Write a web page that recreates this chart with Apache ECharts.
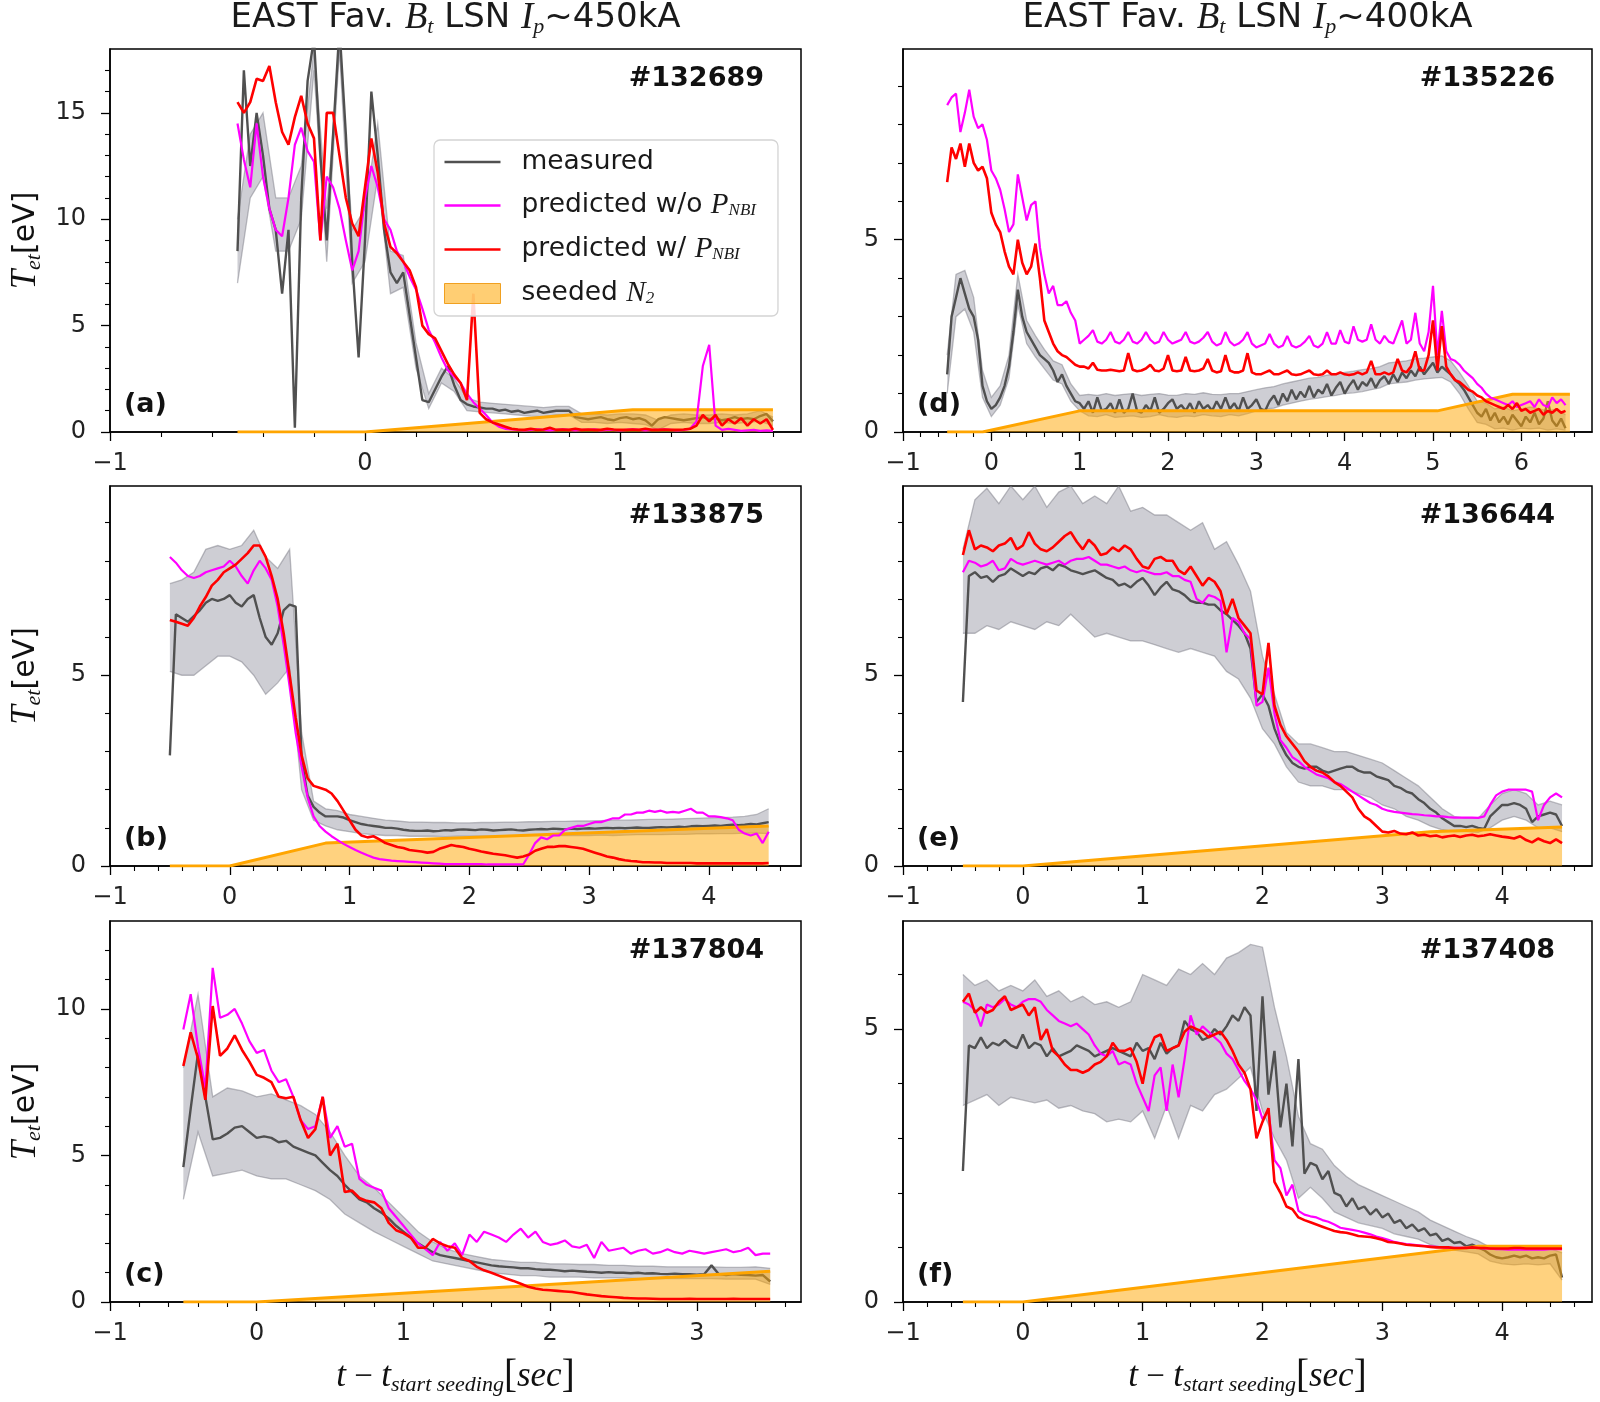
<!DOCTYPE html>
<html>
<head>
<meta charset="utf-8">
<title>EAST divertor Te: measured vs predicted</title>
<script src="https://cdn.jsdelivr.net/npm/echarts@6.0.0/dist/echarts.min.js"></script>
<style>
  html, body { margin: 0; padding: 0; background: #fff; }
  #chart { width: 1600px; height: 1402px; }
</style>
</head>
<body>
<div id="chart"></div>
<script>
// values: T_et [eV] against t - t_start seeding [s]
// lines are sampled from a start time with a fixed step, the grey band on a coarser grid,
// seeded N2 is given by its breakpoints

// ---- (a) #132689 ----
const aLineT0 = -0.5, aLineDt = 0.025;
const aMeas = [
  8.5, 17, 12.5, 15, 13, 10.5, 9.5, 6.5, 9.5, 0.2,
  11, 16.5, 18.5, 13, 9, 14, 19, 14, 8, 3.5,
  9, 16, 13, 9.5, 7.5, 7, 7.5, 5.5, 3.5, 1.5,
  1.4, 2.0, 2.6, 3.1, 2.2, 1.5, 1.3, 1.2, 1.15, 1.1,
  1.1, 1.0, 1.05, 0.95, 1.0, 0.9, 0.95, 1.0, 0.9, 0.95,
  1.0, 1.0, 1.0, 0.7, 0.65, 0.6, 0.65, 0.7, 0.6, 0.55,
  0.65, 0.7, 0.6, 0.65, 0.55, 0.3, 0.6, 0.7, 0.65, 0.6,
  0.55, 0.6, 0.65, 0.7, 0.6, 0.65, 0.55, 0.6, 0.7, 0.6,
  0.65, 0.6, 0.75, 0.85, 0.5
];
const aPred = [
  14.5, 12.8, 11.5, 14.5, 12, 10.5, 9.5, 9.2, 11, 13.5,
  14.3, 13.2, 12.7, 9, 12, 11.5, 10.5, 9, 7.6, 8.5,
  11, 12.5, 11.5, 10, 9.5, 8.5, 8, 7.3, 6.7, 5.8,
  4.8, 4.2, 3.5, 2.9, 2.6, 2.3, 1.8, 1.4, 1.1, 0.8,
  0.45, 0.25, 0.15, 0.12, 0.1, 0.08, 0.1, 0.12, 0.1, 0.08,
  0.1, 0.12, 0.1, 0.08, 0.1, 0.1, 0.12, 0.08, 0.1, 0.1,
  0.08, 0.1, 0.12, 0.1, 0.08, 0.1, 0.1, 0.12, 0.1, 0.08,
  0.1, 0.15, 0.5, 3.1, 4.1, 0.3, 0.1, 0.15, 0.1, 0.05,
  0.08, 0.1, 0.05, 0.08, 0.05
];
const aPredNbi = [
  15.5, 15, 15.5, 16.6, 16.5, 17.2, 15.5, 14.1, 13.5, 14.8,
  15.8, 14.5, 13.8, 9, 15, 15, 13, 11, 9.8, 9.2,
  11.5, 13.8, 12.2, 9.8, 8.7, 8.4, 8, 7.6, 6.8, 5,
  4.6, 4.4, 3.8, 3.2, 2.7, 2.3, 1.5, 6.5, 0.9, 0.6,
  0.45, 0.35, 0.25, 0.15, 0.12, 0.1, 0.15, 0.1, 0.12, 0.2,
  0.1, 0.12, 0.1, 0.15, 0.1, 0.12, 0.1, 0.1, 0.15, 0.12,
  0.1, 0.1, 0.12, 0.1, 0.15, 0.1, 0.1, 0.12, 0.1, 0.1,
  0.12, 0.15, 0.3, 0.8, 0.5, 0.8, 0.3, 0.6, 0.4, 0.65,
  0.3, 0.6, 0.4, 0.6, 0.1
];
const aBandT0 = -0.5, aBandDt = 0.05;
const aLo = [
  7, 11, 12, 8.5, 8.5, 10, 17, 8, 18, 7,
  8, 12, 6.5, 6.8, 3, 1.1, 2.3, 1.9, 1.0, 0.95,
  0.9, 0.85, 0.8, 0.75, 0.72, 0.8, 0.8, 0.45, 0.45, 0.4,
  0.45, 0.4, 0.35, 0.1, 0.4, 0.45, 0.4, 0.4, 0.45, 0.4,
  0.45, 0.5, 0.3
];
const aHi = [
  10, 14, 15, 11, 11, 12.5, 20, 10.5, 20, 9.5,
  10.5, 14.5, 8.5, 8.3, 4.2, 1.8, 3, 2.5, 1.6, 1.4,
  1.35, 1.3, 1.25, 1.2, 1.15, 1.2, 1.2, 0.85, 0.85, 0.8,
  0.85, 0.85, 0.8, 0.55, 0.8, 0.85, 0.8, 0.8, 0.85, 0.8,
  0.85, 1.0, 0.7
];
const aN2T = [-0.5, 0, 1.05, 1.6];
const aN2V = [0, 0, 1.05, 1.05];

// ---- (b) #133875 ----
const bLineT0 = -0.5, bLineDt = 0.05;
const bMeas = [
  2.9, 6.6, 6.5, 6.4, 6.55, 6.7, 6.9, 7.0, 6.95, 7.0,
  7.1, 6.9, 6.8, 7.0, 7.1, 6.5, 6.0, 5.8, 6.1, 6.7,
  6.85, 6.8, 2.8, 1.85, 1.55, 1.4, 1.3, 1.3, 1.3, 1.27,
  1.2, 1.15, 1.1, 1.07, 1.05, 1.03, 1.0, 1.0, 0.98, 0.95,
  0.93, 0.92, 0.92, 0.93, 0.91, 0.92, 0.94, 0.93, 0.95, 0.96,
  0.95, 0.94, 0.96, 0.95, 0.93, 0.94, 0.95, 0.96, 0.94, 0.93,
  0.95, 0.96, 0.97, 0.96, 0.98, 0.97, 0.96, 0.98, 0.97, 0.98,
  0.99, 0.98, 0.99, 1.0, 0.99, 1.0, 0.99, 1.0, 1.01, 1.0,
  1.0, 1.01, 1.02, 1.01, 1.02, 1.03, 1.02, 1.04, 1.05, 1.04,
  1.05, 1.06, 1.05, 1.07, 1.08, 1.07, 1.08, 1.1, 1.09, 1.12,
  1.15
];
const bPred = [
  8.1, 7.95, 7.75, 7.6, 7.55, 7.6, 7.7, 7.75, 7.8, 7.85,
  8.0, 7.85, 7.6, 7.4, 7.75, 8.0, 7.8, 7.5, 6.8, 5.8,
  4.7, 3.5, 2.6, 1.8, 1.3, 1.05, 0.9, 0.78, 0.68, 0.58,
  0.5, 0.42, 0.35, 0.28, 0.22, 0.18, 0.16, 0.14, 0.13, 0.12,
  0.11, 0.1, 0.09, 0.08, 0.07, 0.06, 0.05, 0.05, 0.05, 0.05,
  0.05, 0.05, 0.05, 0.04, 0.04, 0.04, 0.04, 0.04, 0.04, 0.04,
  0.3, 0.6, 0.75, 0.7, 0.8, 0.8, 0.95, 1.0, 1.05, 1.05,
  1.1, 1.15, 1.15, 1.2, 1.25, 1.25, 1.35, 1.35, 1.4, 1.4,
  1.45, 1.42, 1.45, 1.4, 1.42, 1.4, 1.45, 1.5, 1.4, 1.4,
  1.3, 1.3, 1.28, 1.25, 1.2, 0.95, 0.85, 0.8, 0.85, 0.6,
  0.9
];
const bPredNbi = [
  6.45, 6.4, 6.35, 6.3, 6.5, 6.8, 7.05, 7.35, 7.5, 7.7,
  7.8, 7.9, 8.05, 8.2, 8.4, 8.4, 8.1, 7.6, 7.0, 6.1,
  5.0, 3.9, 2.9, 2.3, 2.1, 2.05, 2.0, 1.9, 1.7, 1.45,
  1.2, 0.95, 0.8, 0.75, 0.78, 0.7, 0.6, 0.55, 0.5, 0.47,
  0.42, 0.4, 0.38, 0.35, 0.37, 0.45, 0.5, 0.55, 0.52, 0.5,
  0.45, 0.42, 0.38, 0.35, 0.32, 0.3, 0.28, 0.25, 0.22, 0.25,
  0.3, 0.4, 0.45, 0.5, 0.5, 0.52, 0.52, 0.5, 0.48, 0.45,
  0.4, 0.35, 0.3, 0.25, 0.22, 0.18, 0.15, 0.13, 0.12, 0.1,
  0.1, 0.09, 0.09, 0.08, 0.08, 0.08, 0.08, 0.08, 0.07, 0.07,
  0.07, 0.07, 0.07, 0.07, 0.07, 0.07, 0.07, 0.07, 0.07, 0.07,
  0.08
];
const bBandT0 = -0.5, bBandDt = 0.1;
const bLo = [
  5.1, 5.0, 5.0, 5.25, 5.5, 5.5, 5.35, 5.0, 4.5, 4.8,
  5.2, 2.0, 1.2, 1.05, 0.95, 0.9, 0.85, 0.82, 0.8, 0.8,
  0.78, 0.78, 0.78, 0.77, 0.78, 0.78, 0.78, 0.78, 0.79, 0.79,
  0.8, 0.8, 0.8, 0.8, 0.8, 0.8, 0.81, 0.8, 0.81, 0.82,
  0.82, 0.82, 0.83, 0.83, 0.84, 0.84, 0.85, 0.85, 0.86, 0.86,
  0.85
];
const bHi = [
  7.4, 7.5, 7.7, 8.3, 8.4, 8.3, 8.4, 8.8, 8.1, 7.8,
  8.3, 3.5, 1.7, 1.5, 1.45, 1.35, 1.3, 1.25, 1.2, 1.18,
  1.15, 1.15, 1.14, 1.14, 1.13, 1.13, 1.14, 1.14, 1.15, 1.15,
  1.16, 1.16, 1.17, 1.17, 1.18, 1.18, 1.19, 1.2, 1.2, 1.21,
  1.22, 1.22, 1.23, 1.24, 1.25, 1.26, 1.27, 1.28, 1.3, 1.35,
  1.5
];
const bN2T = [-0.5, 0, 0.8, 4.5];
const bN2V = [0, 0, 0.6, 1.05];

// ---- (c) #137804 ----
const cLineT0 = -0.5, cLineDt = 0.05;
const cMeas = [
  4.6, 6.6, 8.5, 7.0, 5.55, 5.6, 5.75, 5.95, 6.0, 5.8,
  5.6, 5.65, 5.6, 5.45, 5.5, 5.3, 5.2, 5.1, 5.0, 4.75,
  4.5, 4.3, 4.0, 3.75, 3.5, 3.4, 3.2, 3.05, 2.85, 2.6,
  2.4, 2.2, 2.0, 1.85, 1.7, 1.6, 1.55, 1.5, 1.45, 1.4,
  1.35, 1.3, 1.25, 1.22, 1.2, 1.18, 1.15, 1.15, 1.12, 1.1,
  1.1, 1.08, 1.05, 1.07, 1.05, 1.03, 1.02, 1.0, 1.02, 1.0,
  1.0, 0.98, 1.0, 0.97, 0.98, 0.96, 0.95, 0.97, 0.95, 0.95,
  0.93, 0.95, 1.25, 0.95, 0.92, 0.95, 0.93, 0.92, 0.9, 0.92,
  0.7
];
const cPred = [
  9.3, 10.5, 8.7, 7.3, 11.4, 9.7, 9.8, 10.0, 9.5, 8.9,
  8.5, 8.6, 7.9, 7.5, 7.6, 7.0, 6.2, 5.9, 6.0, 7.0,
  5.6, 6.0, 5.3, 5.4, 4.2, 4.0, 3.9, 3.8, 3.2, 2.9,
  2.6, 2.3, 2.0, 1.8, 1.6, 2.05, 1.75, 2.0, 1.6, 2.3,
  2.05, 2.4, 2.3, 2.2, 2.05, 2.3, 2.5, 2.2, 2.4, 2.05,
  1.95, 2.0, 2.1, 1.9, 1.85, 1.95, 1.5, 2.05, 1.75, 1.8,
  1.85, 1.65, 1.75, 1.8, 1.65, 1.7, 1.8, 1.7, 1.65, 1.75,
  1.7, 1.65, 1.7, 1.75, 1.8, 1.7, 1.75, 1.85, 1.6, 1.65,
  1.65
];
const cPredNbi = [
  8.05, 9.2, 8.3, 6.9, 10.1, 8.4, 8.65, 9.1, 8.6, 8.2,
  7.75, 7.65, 7.5, 7.0, 6.95, 7.0, 6.2, 5.6, 5.9, 7.0,
  5.0, 5.4, 3.75, 3.8, 3.55, 3.45, 3.4, 3.2, 2.7, 2.45,
  2.35, 2.2, 1.85, 1.85, 2.15, 2.0, 1.9, 1.85, 1.5, 1.4,
  1.2, 1.08, 1.0, 0.9, 0.8, 0.72, 0.62, 0.52, 0.46, 0.42,
  0.4, 0.38, 0.36, 0.34, 0.3, 0.26, 0.23, 0.2, 0.18, 0.16,
  0.14, 0.13, 0.12, 0.12, 0.11, 0.1, 0.1, 0.1, 0.1, 0.11,
  0.1, 0.1, 0.1, 0.1, 0.1, 0.11, 0.1, 0.1, 0.1, 0.1,
  0.1
];
const cBandT0 = -0.5, cBandDt = 0.1;
const cLo = [
  3.5, 5.8, 4.3, 4.4, 4.5, 4.3, 4.2, 4.2, 4.0, 3.8,
  3.5, 3.0, 2.7, 2.4, 2.15, 1.9, 1.65, 1.4, 1.3, 1.2,
  1.1, 1.0, 0.95, 0.9, 0.9, 0.85, 0.85, 0.85, 0.82, 0.82,
  0.82, 0.8, 0.8, 0.8, 0.8, 0.8, 0.8, 0.78, 0.78, 0.78,
  0.6
];
const cHi = [
  8.0, 10.5, 7.0, 7.3, 7.2, 7.0, 7.1, 6.9, 6.7, 6.4,
  5.8, 5.0, 4.3, 3.9, 3.4, 2.9, 2.4, 2.05, 1.8, 1.65,
  1.55, 1.45, 1.4, 1.35, 1.35, 1.3, 1.3, 1.28, 1.28, 1.25,
  1.25, 1.22, 1.22, 1.2, 1.2, 1.2, 1.2, 1.18, 1.18, 1.2,
  1.15
];
const cN2T = [-0.5, 0, 3.5];
const cN2V = [0, 0, 1.05];

// ---- (d) #135226 ----
const dLineT0 = -0.5, dLineDt = 0.05;
const dMeas = [
  1.5, 3.0, 3.5, 4.0, 3.6, 3.2, 3.0, 2.4, 1.2, 0.8,
  0.6, 0.7, 0.9, 1.2, 1.7, 2.6, 3.7, 3.0, 2.6, 2.4,
  2.2, 2.0, 1.9, 1.8, 1.6, 1.3, 1.5, 1.2, 1.0, 0.8,
  0.75, 0.6, 0.8, 0.5, 0.9, 0.55, 0.6, 0.75, 0.5, 0.85,
  0.5, 0.6, 1.0, 0.55, 0.5, 0.7, 0.55, 0.9, 0.5, 0.6,
  0.75, 0.85, 0.6, 0.7, 0.55, 0.75, 0.5, 0.8, 0.6, 0.7,
  0.55, 0.8, 0.6, 0.9, 0.6, 0.75, 0.55, 0.9, 0.6, 0.7,
  0.85, 0.6, 0.55, 0.8, 0.95, 0.7, 1.0, 0.8, 1.1, 0.85,
  1.05, 0.9, 1.2, 0.9, 1.1, 1.0, 1.25, 0.95, 1.15, 1.3,
  1.0, 1.2, 1.35, 1.1, 1.3, 1.2, 1.4, 1.15, 1.35, 1.45,
  1.25, 1.5, 1.3, 1.55, 1.4, 1.6, 1.45, 1.7, 1.5, 1.65,
  1.8, 1.55, 1.7, 1.6, 1.5, 1.35, 1.25, 1.1, 0.9, 0.7,
  0.5, 0.4, 0.6, 0.3, 0.5, 0.25, 0.4, 0.2, 0.45, 0.3,
  0.15, 0.4, 0.25, 0.5, 0.2, 0.35, 0.8, 0.3, 0.15, 0.35,
  0.1
];
const dPred = [
  8.5, 8.7, 8.8, 7.8, 8.3, 8.9, 8.2, 7.9, 8.0, 7.6,
  6.8, 6.6, 6.3, 5.8, 5.2, 5.4, 6.7, 6.1, 5.5, 5.9,
  6.0, 4.8, 4.1, 3.6, 3.8, 3.3, 3.3, 3.4, 3.1, 2.9,
  2.3, 2.4, 2.5, 2.65, 2.35, 2.3, 2.4, 2.6, 2.35, 2.3,
  2.4, 2.6, 2.35, 2.3, 2.4, 2.6, 2.4, 2.3, 2.35, 2.6,
  2.4, 2.3, 2.35, 2.4, 2.6, 2.35, 2.3, 2.35, 2.45, 2.6,
  2.35, 2.25, 2.3, 2.6, 2.35, 2.25, 2.3, 2.4, 2.6, 2.3,
  2.2, 2.25, 2.3, 2.55, 2.3, 2.2, 2.25, 2.5, 2.25, 2.2,
  2.25, 2.35, 2.5, 2.25, 2.2, 2.3, 2.6, 2.3, 2.3, 2.65,
  2.35, 2.3, 2.75, 2.4, 2.35, 2.4, 2.8, 2.4, 2.3, 2.5,
  2.35, 2.3, 2.6, 2.9, 2.3, 2.4, 3.1, 2.3, 2.1, 2.6,
  3.8, 2.0, 3.15, 2.1, 1.9, 1.85, 1.75, 1.6, 1.5, 1.4,
  1.25, 1.15, 1.0, 0.9, 0.85, 0.8, 0.75, 0.7, 0.8, 0.65,
  0.7, 0.75, 0.8, 0.65, 0.85, 0.7, 0.65, 0.9, 0.75, 0.85,
  0.7
];
const dPredNbi = [
  6.5, 7.4, 7.1, 7.5, 6.9, 7.5, 7.0, 6.8, 6.9, 6.6,
  5.7, 5.4, 5.2, 4.7, 4.3, 4.1, 5.0, 4.4, 4.1, 4.3,
  4.9, 4.0, 2.9, 2.6, 2.3, 2.1, 2.0, 1.95, 1.85, 1.75,
  1.7, 1.7, 1.65, 1.8, 1.62, 1.6, 1.6, 1.62, 1.6, 1.58,
  1.6, 2.05, 1.62, 1.58, 1.6, 1.65, 1.75, 1.6, 1.58, 1.65,
  2.0, 1.6, 1.58, 1.6, 1.95, 1.6, 1.58, 1.6, 1.65, 1.9,
  1.6, 1.55, 1.58, 2.0, 1.6, 1.55, 1.55, 1.6, 2.05, 1.55,
  1.5, 1.5, 1.55, 1.6, 1.5, 1.5, 1.55, 1.6, 1.5, 1.48,
  1.5, 1.55, 1.6, 1.5, 1.48, 1.5, 1.6, 1.5, 1.5, 1.55,
  1.5, 1.48, 1.5, 1.55, 1.5, 1.55, 1.85, 1.5, 1.5, 1.55,
  1.5, 1.55, 1.9, 1.6, 1.55, 1.7, 2.1, 1.6, 1.6, 2.0,
  2.9, 1.6, 2.75, 1.7, 1.5, 1.35, 1.3, 1.2, 1.1, 1.05,
  0.95, 0.9, 0.8, 0.75, 0.7, 0.65, 0.6, 0.7, 0.6, 0.75,
  0.55, 0.6, 0.5, 0.55, 0.6, 0.45, 0.55, 0.5, 0.6, 0.5,
  0.55
];
const dBandT0 = -0.5, dBandDt = 0.1;
const dLo = [
  1.0, 3.0, 3.2, 2.6, 0.9, 0.4, 0.7, 1.4, 3.3, 2.3,
  1.95, 1.65, 1.35, 1.25, 0.8, 0.55, 0.42, 0.4, 0.45, 0.38,
  0.4, 0.42, 0.38, 0.4, 0.45, 0.4, 0.38, 0.42, 0.4, 0.45,
  0.42, 0.4, 0.45, 0.42, 0.48, 0.55, 0.6, 0.62, 0.7, 0.75,
  0.8, 0.85, 0.88, 0.92, 0.95, 1.0, 1.02, 1.05, 1.1, 1.15,
  1.25, 1.28, 1.3, 1.35, 1.38, 1.4, 1.42, 1.3, 1.0, 0.6,
  0.25, 0.2, 0.08, 0.1, 0.05, 0.1, 0.08, 0.1, 0.05, 0.08,
  0.05
];
const dHi = [
  2.0, 4.1, 4.2, 3.5, 1.6, 0.9, 1.2, 2.0, 4.1, 2.9,
  2.5, 2.15, 1.85, 1.75, 1.25, 0.95, 0.98, 0.95, 1.0, 0.95,
  0.98, 1.0, 0.95, 0.98, 1.0, 0.96, 0.95, 1.0, 0.98, 1.02,
  0.98, 0.97, 1.0, 1.0, 1.05, 1.1, 1.15, 1.18, 1.25, 1.3,
  1.35, 1.4, 1.42, 1.48, 1.5, 1.55, 1.58, 1.62, 1.65, 1.7,
  1.8, 1.82, 1.85, 1.9, 1.92, 1.95, 1.98, 1.85, 1.55, 1.2,
  0.8, 0.75, 0.6, 0.65, 0.55, 0.6, 0.65, 0.6, 0.55, 0.6,
  0.45
];
const dN2T = [-0.5, -0.1, 1.0, 5.05, 5.9, 6.55];
const dN2V = [0, 0, 0.55, 0.55, 0.98, 0.98];

// ---- (e) #136644 ----
const eLineT0 = -0.5, eLineDt = 0.05;
const eMeas = [
  4.3, 7.6, 7.7, 7.55, 7.6, 7.45, 7.6, 7.65, 7.8, 7.7,
  7.6, 7.7, 7.65, 7.8, 7.85, 7.75, 7.9, 7.85, 7.75, 7.7,
  7.65, 7.7, 7.75, 7.65, 7.55, 7.5, 7.35, 7.4, 7.3, 7.45,
  7.55, 7.35, 7.1, 7.3, 7.45, 7.25, 7.2, 7.1, 6.95, 6.9,
  6.9, 6.85, 6.85, 6.7, 6.6, 6.45, 6.3, 6.1, 5.7, 4.3,
  4.5, 4.2, 3.6, 3.2, 2.9, 2.7, 2.6, 2.55, 2.6, 2.6,
  2.5, 2.45, 2.5, 2.55, 2.6, 2.6, 2.5, 2.45, 2.45, 2.35,
  2.3, 2.25, 2.1, 2.05, 1.95, 1.9, 1.75, 1.65, 1.5, 1.4,
  1.25, 1.15, 1.05, 1.05, 1.02, 1.05, 1.0, 0.97, 1.3, 1.45,
  1.6, 1.6, 1.65, 1.6, 1.5, 1.15, 1.3, 1.35, 1.4, 1.35,
  1.05
];
const ePred = [
  7.7, 8.0, 7.95, 7.85, 7.9, 8.0, 7.75, 7.8, 8.05, 7.95,
  7.9, 7.95, 8.0, 7.95, 7.9, 7.95, 8.0, 7.9, 8.0, 8.05,
  8.05, 8.1, 8.0, 7.9, 7.9, 7.85, 7.8, 7.85, 7.75, 7.7,
  7.75, 7.7, 7.65, 7.65, 7.7, 7.6, 7.6, 7.5, 7.45, 7.0,
  6.9, 7.1, 7.05, 6.95, 5.6, 6.5, 6.4, 6.1, 5.95, 4.2,
  4.3, 5.2, 4.0, 3.3, 3.1, 2.85, 2.75, 2.6, 2.5, 2.4,
  2.35, 2.3, 2.2, 2.15, 2.05, 1.95, 1.85, 1.75, 1.65, 1.6,
  1.5, 1.45, 1.42, 1.4, 1.38, 1.36, 1.35, 1.33, 1.32, 1.3,
  1.3, 1.28, 1.27, 1.27, 1.27, 1.27, 1.26, 1.3, 1.6, 1.85,
  1.95, 2.0, 2.0, 2.0, 2.0, 1.95, 1.2, 1.6, 1.8, 1.9,
  1.8
];
const ePredNbi = [
  8.15, 8.8, 8.3, 8.4, 8.35, 8.25, 8.4, 8.45, 8.6, 8.3,
  8.4, 8.75, 8.45, 8.3, 8.25, 8.35, 8.5, 8.65, 8.75, 8.5,
  8.3, 8.55, 8.4, 8.15, 8.2, 8.35, 8.25, 8.4, 8.3, 8.05,
  7.85, 7.8, 8.05, 8.1, 8.0, 8.0, 7.75, 7.65, 7.85, 7.6,
  7.35, 7.55, 7.45, 7.2, 6.6, 7.0, 6.5, 6.3, 6.1, 4.6,
  4.5, 5.85, 4.2, 3.7, 3.4, 3.2, 3.0, 2.75, 2.6, 2.5,
  2.45, 2.35, 2.2, 2.1, 1.95, 1.8, 1.5, 1.3, 1.2, 1.05,
  0.9, 0.88, 0.92, 0.85, 0.83, 0.88, 0.8, 0.82, 0.78, 0.8,
  0.75, 0.78, 0.8, 0.76, 0.8, 0.82, 0.78, 0.8, 0.83, 0.8,
  0.77, 0.75, 0.72, 0.78, 0.68, 0.62, 0.72, 0.65, 0.6, 0.7,
  0.6
];
const eBandT0 = -0.5, eBandDt = 0.1;
const eLo = [
  6.1, 6.1, 6.3, 6.2, 6.4, 6.3, 6.2, 6.4, 6.3, 6.6,
  6.3, 6.0, 6.1, 6.0, 5.9, 5.9, 5.8, 5.7, 5.6, 5.7,
  5.6, 5.5, 5.1, 4.9, 4.4, 3.6, 3.2, 2.6, 2.2, 2.1,
  2.1, 2.0, 2.0, 1.9, 1.8, 1.6, 1.5, 1.3, 1.2, 1.05,
  0.95, 0.9, 0.9, 0.88, 1.0, 1.2, 1.3, 1.2, 1.0, 1.0,
  0.9
];
const eHi = [
  8.3, 9.6, 9.9, 9.5, 10.0, 9.6, 10.0, 9.4, 9.8, 10.0,
  9.5, 9.7, 9.5, 10.0, 9.3, 9.4, 9.2, 9.2, 9.0, 8.8,
  9.0, 8.3, 8.5, 7.9, 7.2, 5.5, 4.5, 3.5, 3.2, 3.2,
  3.1, 3.0, 3.0, 2.9, 2.8, 2.7, 2.5, 2.3, 2.1, 1.8,
  1.5, 1.3, 1.25, 1.25, 1.6, 1.9, 2.0, 1.9, 1.6, 1.7,
  1.6
];
const eN2T = [-0.5, 0, 3.4, 4.5];
const eN2V = [0, 0, 0.9, 1.02];

// ---- (f) #137408 ----
const fLineT0 = -0.5, fLineDt = 0.05;
const fMeas = [
  2.4, 4.7, 4.65, 4.85, 4.65, 4.75, 4.7, 4.8, 4.7, 4.65,
  4.9, 4.65, 4.75, 4.7, 4.5, 4.65, 4.5, 4.55, 4.6, 4.7,
  4.65, 4.6, 4.5, 4.55, 4.6, 4.65, 4.6, 4.55, 4.5, 4.75,
  4.6, 4.65, 4.45, 4.75, 4.55, 4.65, 4.7, 5.15, 5.0, 4.95,
  4.8, 4.85, 5.0, 4.9, 5.05, 5.25, 5.15, 5.4, 5.25, 3.5,
  5.6, 3.8, 4.6, 3.2, 4.0, 2.85, 4.45, 2.35, 2.55, 2.5,
  2.25, 2.4, 2.0, 1.95, 1.75, 1.9, 1.7, 1.75, 1.6, 1.7,
  1.55, 1.62, 1.45, 1.5, 1.35, 1.42, 1.3, 1.35, 1.22, 1.25,
  1.12, 1.16, 1.08, 1.1, 1.02, 1.05, 1.0, 0.95, 0.87, 0.82,
  0.8, 0.82, 0.85, 0.82, 0.85, 0.8, 0.82, 0.8, 0.85, 0.87,
  0.45
];
const fPred = [
  5.5, 5.45, 5.35, 5.05, 5.45, 5.4, 5.45, 5.55, 5.45, 5.4,
  5.5, 5.55, 5.55, 5.5, 5.35, 5.25, 5.15, 5.1, 5.05, 5.1,
  5.0, 4.9, 4.7, 4.55, 4.5, 4.6, 4.35, 4.4, 4.35, 4.0,
  3.75, 3.5, 4.15, 4.3, 3.5, 4.35, 3.75, 4.45, 5.25, 4.9,
  5.05, 4.95, 4.85, 4.75, 4.55, 4.45, 4.25, 4.05, 3.9, 3.7,
  3.35, 3.5, 2.6, 2.45, 1.95, 2.15, 1.67, 1.6, 1.57, 1.55,
  1.5, 1.47, 1.42, 1.36, 1.34, 1.32, 1.3, 1.27, 1.24, 1.2,
  1.17, 1.14, 1.1, 1.08, 1.06, 1.05, 1.04, 1.03, 1.02, 1.01,
  1.0, 0.99, 0.99, 0.99, 0.99, 0.99, 0.99, 0.98, 0.98, 0.97,
  0.97, 0.96, 0.96, 0.96, 0.96, 0.96, 0.96, 0.96, 0.97, 0.97,
  0.97
];
const fPredNbi = [
  5.5, 5.65, 5.3, 5.4, 5.3, 5.35, 5.5, 5.6, 5.35, 5.4,
  5.45, 5.25, 5.4, 4.8, 5.0, 4.6, 4.5, 4.35, 4.25, 4.25,
  4.2, 4.25, 4.35, 4.4, 4.5, 4.75, 4.6, 4.6, 4.65, 4.4,
  4.0, 4.6, 4.85, 4.9, 4.6, 4.65, 4.7, 4.95, 5.05, 5.0,
  4.95, 4.85, 4.9, 4.95, 4.8, 4.6, 4.35, 4.2, 3.9, 3.0,
  3.3, 3.55, 2.2, 2.0, 1.75, 1.7, 1.55, 1.5, 1.46, 1.42,
  1.38, 1.34, 1.3, 1.28, 1.27, 1.24, 1.21, 1.2, 1.19, 1.17,
  1.14, 1.1, 1.09, 1.07, 1.05, 1.04, 1.03, 1.02, 1.01, 1.0,
  1.0, 1.0, 0.99, 0.99, 0.99, 1.0, 0.99, 0.99, 0.98, 0.98,
  0.98, 0.98, 0.99, 0.99, 0.98, 0.98, 0.98, 0.98, 0.98, 0.98,
  0.98
];
const fBandT0 = -0.5, fBandDt = 0.1;
const fLo = [
  3.6, 3.7, 3.8, 3.6, 3.75, 3.7, 3.65, 3.7, 3.55, 3.6,
  3.5, 3.45, 3.3, 3.35, 3.3, 3.5, 3.0, 3.6, 3.0, 3.6,
  3.5, 3.8, 3.9, 4.1, 4.3, 3.5, 3.0, 2.6, 1.9, 2.1,
  1.9, 1.65, 1.55, 1.45, 1.4, 1.35, 1.25, 1.2, 1.15, 1.05,
  1.0, 0.95, 0.92, 0.88, 0.75, 0.7, 0.68, 0.7, 0.68, 0.7,
  0.4
];
const fHi = [
  6.0, 5.8, 5.9, 5.7, 5.8, 5.7, 5.9, 5.6, 5.7, 5.5,
  5.6, 5.45, 5.5, 5.4, 5.5, 6.0, 5.9, 5.8, 6.1, 6.0,
  6.2, 6.0, 6.3, 6.4, 6.55, 6.5, 5.4, 4.5, 3.4, 2.9,
  2.8, 2.5, 2.3, 2.15, 2.05, 1.95, 1.85, 1.75, 1.65, 1.5,
  1.4, 1.3, 1.2, 1.12, 1.0, 0.95, 0.98, 0.95, 0.95, 0.98,
  0.9
];
const fN2T = [-0.5, 0, 3.8, 4.5];
const fN2V = [0, 0, 1.02, 1.02];

// tick positions
const xTicksA = [-1, 0, 1];
const xTicksB = [-1, 0, 1, 2, 3, 4];
const xTicksC = [-1, 0, 1, 2, 3];
const xTicksD = [-1, 0, 1, 2, 3, 4, 5, 6];
const yTicksA = [0, 5, 10, 15];
const yTicksC = [0, 5, 10];
const yTicksLow = [0, 5];

const shots = ['#132689', '#133875', '#137804', '#135226', '#136644', '#137408'];
const tags = ['(a)', '(b)', '(c)', '(d)', '(e)', '(f)'];
const titles = ['450kA', '400kA'];

// ---------------------------------------------------------------------------
const SANS = '"DejaVu Sans", "Liberation Sans", sans-serif';
const SERIF = '"Liberation Serif", "DejaVu Serif", serif';

const MEAS = 'measured';
const PRED = 'predicted w/o P_NBI';
const NBI = 'predicted w/ P_NBI';
const N2 = 'seeded N2';

const BAND_FILL = 'rgba(120,120,135,0.36)';
const BAND_EDGE = 'rgba(125,125,135,0.5)';

const COLS = [{ left: 110, width: 691 }, { left: 903, width: 689 }];
const ROWS = [{ top: 49, height: 383 }, { top: 486, height: 380 }, { top: 921, height: 381 }];

const panels = [
  { col: 0, row: 0, xMax: 1.71, yMax: 18, xTicks: xTicksA, yTicks: yTicksA,
    line: [aLineT0, aLineDt], band: [aBandT0, aBandDt],
    meas: aMeas, pred: aPred, nbi: aPredNbi, lo: aLo, hi: aHi, n2t: aN2T, n2v: aN2V },
  { col: 0, row: 1, xMax: 4.77, yMax: 9.96, xTicks: xTicksB, yTicks: yTicksLow,
    line: [bLineT0, bLineDt], band: [bBandT0, bBandDt],
    meas: bMeas, pred: bPred, nbi: bPredNbi, lo: bLo, hi: bHi, n2t: bN2T, n2v: bN2V },
  { col: 0, row: 2, xMax: 3.71, yMax: 13, xTicks: xTicksC, yTicks: yTicksC,
    line: [cLineT0, cLineDt], band: [cBandT0, cBandDt],
    meas: cMeas, pred: cPred, nbi: cPredNbi, lo: cLo, hi: cHi, n2t: cN2T, n2v: cN2V },
  { col: 1, row: 0, xMax: 6.8, yMax: 9.96, xTicks: xTicksD, yTicks: yTicksLow,
    line: [dLineT0, dLineDt], band: [dBandT0, dBandDt],
    meas: dMeas, pred: dPred, nbi: dPredNbi, lo: dLo, hi: dHi, n2t: dN2T, n2v: dN2V },
  { col: 1, row: 1, xMax: 4.75, yMax: 9.96, xTicks: xTicksB, yTicks: yTicksLow,
    line: [eLineT0, eLineDt], band: [eBandT0, eBandDt],
    meas: eMeas, pred: ePred, nbi: ePredNbi, lo: eLo, hi: eHi, n2t: eN2T, n2v: eN2V },
  { col: 1, row: 2, xMax: 4.75, yMax: 6.98, xTicks: xTicksB, yTicks: yTicksLow,
    line: [fLineT0, fLineDt], band: [fBandT0, fBandDt],
    meas: fMeas, pred: fPred, nbi: fPredNbi, lo: fLo, hi: fHi, n2t: fN2T, n2v: fN2V }
];

function sampleTimes(t0, dt, n) {
  const t = [];
  for (let i = 0; i < n; i++) t.push(Math.round((t0 + dt * i) * 1000) / 1000);
  return t;
}
function pairs(t, v) {
  return v.map((y, i) => [t[i], y]);
}
function tickText(v) {
  return v < 0 ? '\u2212' + Math.abs(v) : String(v);
}

panels.forEach((p, k) => {
  if (p.meas.length !== p.pred.length || p.meas.length !== p.nbi.length || p.lo.length !== p.hi.length) {
    throw new Error('length mismatch in panel ' + tags[k] + ': ' +
      [p.meas.length, p.pred.length, p.nbi.length, p.lo.length, p.hi.length].join(','));
  }
});

// grey uncertainty band: polygon between hi and lo, placed with the axis scales
function bandSeries(k, bt, lo, hi) {
  return {
    type: 'custom', xAxisIndex: k, yAxisIndex: k, z: 2, silent: true, clip: true,
    data: [[bt[0], lo[0]]],
    renderItem: function (params, api) {
      const cs = params.coordSys;
      const rect = { x: cs.x, y: cs.y, width: cs.width, height: cs.height };
      const upper = bt.map((t, i) => api.coord([t, hi[i]]));
      const lower = bt.map((t, i) => api.coord([t, lo[i]]));
      const clip = pts => echarts.graphic.clipPointsByRect(pts, rect);
      return {
        type: 'group',
        children: [
          { type: 'polygon', shape: { points: clip(upper.concat(lower.slice().reverse())) },
            style: { fill: BAND_FILL, stroke: null } },
          { type: 'polyline', shape: { points: clip(upper) },
            style: { fill: null, stroke: BAND_EDGE, lineWidth: 1.3 } },
          { type: 'polyline', shape: { points: clip(lower) },
            style: { fill: null, stroke: BAND_EDGE, lineWidth: 1.3 } }
        ]
      };
    }
  };
}

const nameRich = {
  i: { fontFamily: SERIF, fontStyle: 'italic', fontSize: 35, color: '#111', lineHeight: 38 },
  s: { fontFamily: SERIF, fontStyle: 'italic', fontSize: 22, color: '#111', lineHeight: 14, verticalAlign: 'bottom' },
  n: { fontFamily: SANS, fontSize: 30, color: '#111', lineHeight: 38 },
  m: { fontFamily: SERIF, fontSize: 33, color: '#111', lineHeight: 38 },
  b: { fontFamily: SERIF, fontSize: 39, color: '#111', lineHeight: 38 }
};

const grids = [], xAxes = [], yAxes = [], series = [], graphics = [];

panels.forEach((p, k) => {
  const c = COLS[p.col], r = ROWS[p.row];
  grids.push({
    left: c.left, top: r.top, width: c.width, height: r.height,
    show: true, borderColor: '#000', borderWidth: 1.5, backgroundColor: 'transparent',
    outerBoundsMode: 'none'
  });
  xAxes.push({
    type: 'value', gridIndex: k, min: -1, max: p.xMax, interval: 1,
    axisLine: { show: true, onZero: false, lineStyle: { color: '#000', width: 1.5 } },
    axisTick: { show: true, length: 9, customValues: p.xTicks, lineStyle: { color: '#000', width: 1.3 } },
    minorTick: { show: true, splitNumber: 5, length: 5, lineStyle: { color: '#000', width: 1.1 } },
    axisLabel: { customValues: p.xTicks, formatter: tickText, fontFamily: SANS, fontSize: 24, color: '#222', margin: 20 },
    splitLine: { show: false }, minorSplitLine: { show: false },
    name: p.row === 2 ? '{i|t}{m| \u2212 }{i|t}{s|start seeding}{b|[}{i|sec}{b|]}' : '',
    nameLocation: 'middle', nameGap: 56,
    nameTextStyle: { rich: nameRich }
  });
  yAxes.push({
    type: 'value', gridIndex: k, min: 0, max: p.yMax, interval: 5,
    axisLine: { show: true, onZero: false, lineStyle: { color: '#000', width: 1.5 } },
    axisTick: { show: true, length: 9, customValues: p.yTicks, lineStyle: { color: '#000', width: 1.3 } },
    minorTick: { show: true, splitNumber: 5, length: 5, lineStyle: { color: '#000', width: 1.1 } },
    axisLabel: { customValues: p.yTicks, formatter: tickText, fontFamily: SANS, fontSize: 24, color: '#222', margin: 24 },
    splitLine: { show: false }, minorSplitLine: { show: false },
    name: p.col === 0 ? '{i|T}{s|et}{n|[eV]}' : '',
    nameLocation: 'middle', nameGap: 65, nameRotate: 90,
    nameTextStyle: { rich: nameRich }
  });

  const lt = sampleTimes(p.line[0], p.line[1], p.meas.length);
  const bt = sampleTimes(p.band[0], p.band[1], p.lo.length);
  const common = { xAxisIndex: k, yAxisIndex: k, symbol: 'none', showSymbol: false, animation: false };

  series.push(bandSeries(k, bt, p.lo, p.hi));
  series.push(Object.assign({}, common, {
    type: 'line', name: MEAS, z: 3, color: '#505050',
    data: pairs(lt, p.meas),
    lineStyle: { color: '#505050', width: 2.4 }
  }));
  series.push(Object.assign({}, common, {
    type: 'line', name: N2, z: 4, color: '#ffa500',
    data: pairs(p.n2t, p.n2v),
    lineStyle: { color: '#ffa500', width: 3 },
    areaStyle: { color: 'rgba(255,165,0,0.5)', opacity: 1 }
  }));
  series.push(Object.assign({}, common, {
    type: 'line', name: PRED, z: 5, color: '#ff00ff',
    data: pairs(lt, p.pred),
    lineStyle: { color: '#ff00ff', width: 2.2 }
  }));
  series.push(Object.assign({}, common, {
    type: 'line', name: NBI, z: 6, color: '#ff0000',
    data: pairs(lt, p.nbi),
    lineStyle: { color: '#ff0000', width: 2.6 }
  }));

  graphics.push({
    type: 'text', x: c.left + c.width - 37, y: r.top + 30, z: 50,
    style: { text: shots[k], font: 'bold 27px "DejaVu Sans"', fill: '#111', align: 'right', verticalAlign: 'middle' }
  });
  graphics.push({
    type: 'text', x: c.left + 14, y: r.top + r.height - 27, z: 50,
    style: { text: tags[k], font: 'bold 27px "DejaVu Sans"', fill: '#111', align: 'left', verticalAlign: 'middle' }
  });
});

const titleRich = {
  n: { fontFamily: SANS, fontWeight: 'normal', fontSize: 34, color: '#1a1a1a', lineHeight: 40 },
  i: { fontFamily: SERIF, fontWeight: 'normal', fontStyle: 'italic', fontSize: 37, color: '#1a1a1a', lineHeight: 40 },
  s: { fontFamily: SERIF, fontWeight: 'normal', fontStyle: 'italic', fontSize: 22, color: '#1a1a1a', lineHeight: 16, verticalAlign: 'bottom' }
};
const titleOpts = titles.map((ip, j) => ({
  text: '{n|EAST Fav. }{i|B}{s|t}{n| LSN }{i|I}{s|p}{n|~' + ip + '}',
  left: COLS[j].left + COLS[j].width / 2, top: -2, textAlign: 'center', padding: 0,
  textStyle: { fontWeight: 'normal', rich: titleRich }
}));

// legend icons: a thin bar for lines, a patch for the seeded gas (extra moves keep the box size)
const LINE_ICON = 'path://M0,0M0,9.7H56V12.3H0ZM72,22';
const PATCH_ICON = 'path://M0,0M0,1H56V21H0ZM72,22';
const legendText = {};
legendText[MEAS] = 'measured';
legendText[PRED] = 'predicted w/o {i|P}{s|NBI}';
legendText[NBI] = 'predicted w/ {i|P}{s|NBI}';
legendText[N2] = 'seeded {i|N}{s|2}';

const option = {
  animation: false,
  backgroundColor: '#fff',
  title: titleOpts,
  grid: grids,
  xAxis: xAxes,
  yAxis: yAxes,
  legend: {
    orient: 'vertical', left: 434, top: 140,
    padding: [8, 22, 8, 10], itemGap: 15, itemWidth: 72, itemHeight: 22,
    backgroundColor: 'rgba(255,255,255,0.85)', borderColor: '#d4d4d4', borderWidth: 1.3, borderRadius: 6,
    selectedMode: false, z: 20,
    textStyle: {
      fontFamily: SANS, fontSize: 26.5, color: '#1a1a1a', lineHeight: 28,
      rich: {
        i: { fontFamily: SERIF, fontStyle: 'italic', fontSize: 29, color: '#1a1a1a', lineHeight: 28 },
        s: { fontFamily: SERIF, fontStyle: 'italic', fontSize: 17, color: '#1a1a1a', lineHeight: 12, verticalAlign: 'bottom' }
      }
    },
    formatter: name => legendText[name],
    data: [
      { name: MEAS, icon: LINE_ICON, itemStyle: { color: '#505050', borderWidth: 0 } },
      { name: PRED, icon: LINE_ICON, itemStyle: { color: '#ff00ff', borderWidth: 0 } },
      { name: NBI, icon: LINE_ICON, itemStyle: { color: '#ff0000', borderWidth: 0 } },
      { name: N2, icon: PATCH_ICON, itemStyle: { color: 'rgba(255,165,0,0.55)', borderColor: '#f0a020', borderWidth: 1 } }
    ]
  },
  graphic: graphics,
  series: series
};

const chart = echarts.init(document.getElementById('chart'), null, { renderer: 'canvas' });
chart.setOption(option);
</script>
</body>
</html>
